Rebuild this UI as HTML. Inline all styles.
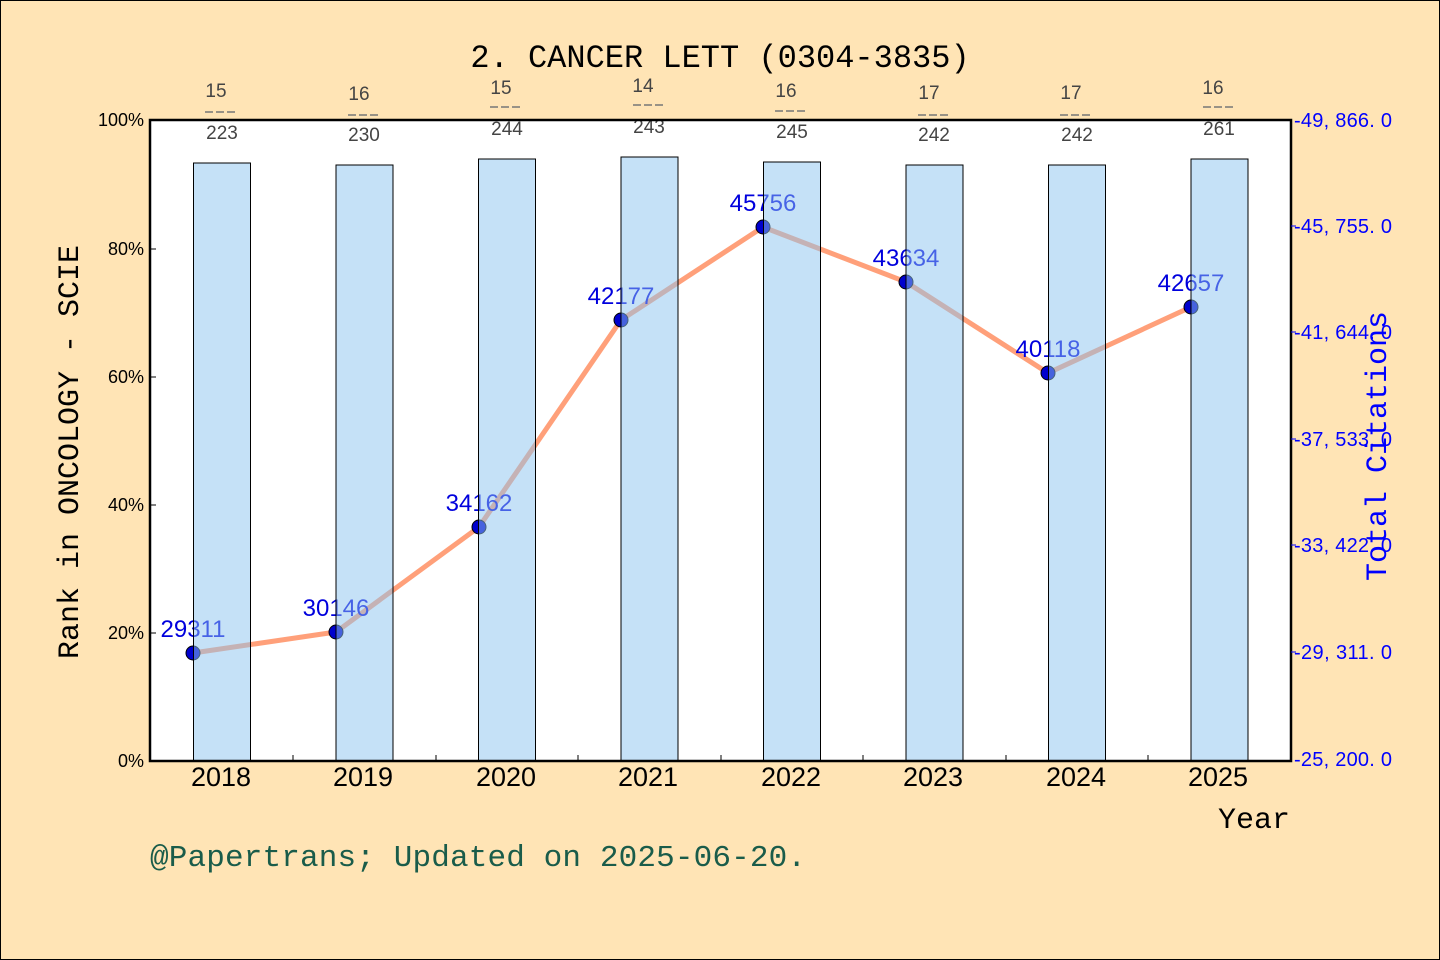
<!DOCTYPE html>
<html><head><style>body{margin:0}svg{display:block}</style></head><body>
<svg width="1440" height="960" xmlns="http://www.w3.org/2000/svg" font-family="Liberation Mono, DejaVu Sans Mono, monospace">
<rect x="0" y="0" width="1440" height="960" fill="#ffe4b5"/>
<rect x="0.5" y="0.5" width="1439" height="959" fill="none" stroke="#000" stroke-width="1"/>
<rect x="150" y="120" width="1141" height="641" fill="#fff"/>
<text x="720" y="67" font-size="32" text-anchor="middle" fill="#000">2. CANCER LETT (0304-3835)</text>
<polyline points="193,653 336,632 479,527 621,320 763,227 906,282 1048,373 1191,307" fill="none" stroke="#ffa07a" stroke-width="5"/>
<g fill="#0000cd" stroke="#000" stroke-width="1">
<circle cx="193" cy="653" r="7"/><circle cx="336" cy="632" r="7"/><circle cx="479" cy="527" r="7"/><circle cx="621" cy="320" r="7"/><circle cx="763" cy="227" r="7"/><circle cx="906" cy="282" r="7"/><circle cx="1048" cy="373" r="7"/><circle cx="1191" cy="307" r="7"/>
</g>
<g font-family="Liberation Sans, sans-serif" font-size="24" fill="#0000dd" text-anchor="middle">
<text x="193" y="637">29311</text><text x="336" y="616">30146</text><text x="479" y="511">34162</text><text x="621" y="304">42177</text><text x="763" y="211">45756</text><text x="906" y="266">43634</text><text x="1048" y="357">40118</text><text x="1191" y="291">42657</text>
</g>
<g fill="rgba(140,195,240,0.5)" stroke="#000" stroke-width="1">
<rect x="193.5" y="163" width="57" height="598"/><rect x="336" y="165" width="57" height="596"/><rect x="478.5" y="159" width="57" height="602"/><rect x="621" y="157" width="57" height="604"/><rect x="763.5" y="162" width="57" height="599"/><rect x="906" y="165" width="57" height="596"/><rect x="1048.5" y="165" width="57" height="596"/><rect x="1191" y="159" width="57" height="602"/>
</g>
<g font-family="Liberation Sans, sans-serif" font-size="19" fill="#444" text-anchor="middle">
<text x="216" y="97">15</text><text x="222" y="139">223</text>
<text x="359" y="100">16</text><text x="364" y="141">230</text>
<text x="501" y="94">15</text><text x="507" y="135">244</text>
<text x="643" y="92">14</text><text x="649" y="133">243</text>
<text x="786" y="97">16</text><text x="792" y="138">245</text>
<text x="929" y="99">17</text><text x="934" y="141">242</text>
<text x="1071" y="99">17</text><text x="1077" y="141">242</text>
<text x="1213" y="94">16</text><text x="1219" y="135">261</text>
</g>
<g stroke="#777" stroke-width="1.5" stroke-dasharray="8,3">
<line x1="205" y1="112" x2="237" y2="112"/><line x1="348" y1="115" x2="380" y2="115"/><line x1="490" y1="107" x2="522" y2="107"/><line x1="633" y1="105" x2="665" y2="105"/><line x1="775" y1="111" x2="807" y2="111"/><line x1="918" y1="115" x2="950" y2="115"/><line x1="1060" y1="115" x2="1092" y2="115"/><line x1="1203" y1="107" x2="1235" y2="107"/>
</g>
<rect x="150" y="120" width="1141" height="641" fill="none" stroke="#000" stroke-width="2.5"/>
<g stroke="#000" stroke-width="1">
<line x1="150" y1="633" x2="156" y2="633"/><line x1="150" y1="505" x2="156" y2="505"/><line x1="150" y1="377" x2="156" y2="377"/><line x1="150" y1="249" x2="156" y2="249"/>
<line x1="293" y1="761" x2="293" y2="755"/><line x1="436" y1="761" x2="436" y2="755"/><line x1="578" y1="761" x2="578" y2="755"/><line x1="721" y1="761" x2="721" y2="755"/><line x1="863" y1="761" x2="863" y2="755"/><line x1="1006" y1="761" x2="1006" y2="755"/><line x1="1148" y1="761" x2="1148" y2="755"/>
</g>
<g stroke="#00f" stroke-width="1">
<line x1="1291" y1="226" x2="1296" y2="226"/><line x1="1291" y1="332" x2="1296" y2="332"/><line x1="1291" y1="439" x2="1296" y2="439"/><line x1="1291" y1="545" x2="1296" y2="545"/><line x1="1291" y1="652" x2="1296" y2="652"/>
</g>
<g font-family="Liberation Sans, sans-serif" font-size="18" fill="#000" text-anchor="end">
<text x="144" y="767">0%</text><text x="144" y="639">20%</text><text x="144" y="511">40%</text><text x="144" y="383">60%</text><text x="144" y="255">80%</text><text x="144" y="126">100%</text>
</g>
<g font-family="Liberation Sans, sans-serif" font-size="20" fill="#00f" textLength="95">
<text x="1294" y="127" textLength="98">-49, 866. 0</text><text x="1294" y="233" textLength="98">-45, 755. 0</text><text x="1294" y="339" textLength="98">-41, 644. 0</text><text x="1294" y="446" textLength="98">-37, 533. 0</text><text x="1294" y="552" textLength="98">-33, 422. 0</text><text x="1294" y="659" textLength="98">-29, 311. 0</text><text x="1294" y="766" textLength="98">-25, 200. 0</text>
</g>
<g font-family="Liberation Sans, sans-serif" font-size="27" fill="#000" text-anchor="middle">
<text x="221" y="786">2018</text><text x="363" y="786">2019</text><text x="506" y="786">2020</text><text x="648" y="786">2021</text><text x="791" y="786">2022</text><text x="933" y="786">2023</text><text x="1076" y="786">2024</text><text x="1218" y="786">2025</text>
</g>
<text x="1290" y="828" font-size="30" text-anchor="end" fill="#000">Year</text>
<text transform="translate(78,452) rotate(-90)" font-size="30" text-anchor="middle" fill="#000">Rank in ONCOLOGY - SCIE</text>
<text transform="translate(1386,446) rotate(-90)" font-size="30" text-anchor="middle" fill="#00f">Total Citations</text>
<text x="150" y="866" font-size="31" fill="#1a5c4a" textLength="656">@Papertrans; Updated on 2025-06-20.</text>
</svg>
</body></html>
